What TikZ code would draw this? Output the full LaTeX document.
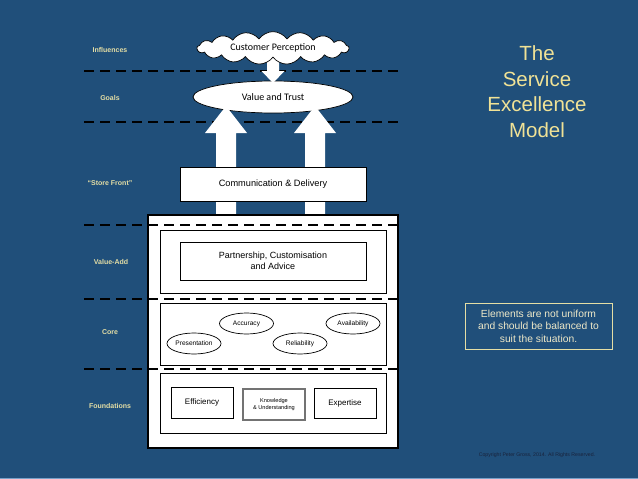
\documentclass[tikz,border=0pt]{standalone}
\usepackage{fontspec}
\setmainfont{Liberation Sans}
\newfontfamily\calib{Carlito}
\usetikzlibrary{shapes.symbols,shapes.geometric}
\definecolor{bgblue}{RGB}{32,79,122}
\definecolor{stripblue}{RGB}{120,160,200}
\definecolor{titleyellow}{RGB}{240,226,150}
\definecolor{labelyellow}{RGB}{228,222,165}
\definecolor{notecream}{RGB}{238,232,200}
\definecolor{copydark}{RGB}{25,35,60}
\tikzset{
  sidelabel/.style={font=\fontsize{7}{8}\selectfont\bfseries, text=labelyellow, anchor=center},
  layerline/.style={draw=black, line width=2.4pt, dash pattern=on 10pt off 6pt},
  whitebox/.style={draw=black, fill=white, line width=0.8pt, rectangle, inner sep=0pt, align=center},
  coreoval/.style={draw=black, fill=white, line width=0.7pt, ellipse, inner sep=0pt,
    minimum width=54pt, minimum height=21pt, font=\fontsize{6.6}{8}\selectfont},
  blockarrow/.style={fill=white, draw=none},
}
\begin{document}
\begin{tikzpicture}[x=1pt,y=-1pt]
\fill[bgblue] (0,0) rectangle (638,479);
\fill[stripblue] (0,477.5) rectangle (638,479);
\useasboundingbox (0,0) rectangle (638,479);

% side labels
\node[sidelabel] (linf) at (110,50) {Influences};
\node[sidelabel] (lgoal) at (110,98) {Goals};
\node[sidelabel] (lstore) at (110,183) {“Store Front”};
\node[sidelabel] (lvalue) at (111,262) {Value-Add};
\node[sidelabel] (lcore) at (110,332) {Core};
\node[sidelabel] (lfound) at (110,406) {Foundations};

% upper dashed lines
\coordinate (d1a) at (84,71);  \coordinate (d1b) at (402,71);
\coordinate (d2a) at (84,122); \coordinate (d2b) at (402,122);
\draw[layerline] (d1a) -- (d1b);
\draw[layerline] (d2a) -- (d2b);

% goals ellipse
\node[draw=black, fill=white, line width=0.7pt, ellipse, inner sep=0pt,
  minimum width=160pt, minimum height=32pt, font=\calib\fontsize{10}{12}\selectfont]
  (trust) at (273,97) {Value and Trust};

% arrows
\coordinate (dbase) at (273,58);
\fill[blockarrow] (dbase) ++(-6,0) -- ++(0,13) -- ++(-5.5,0) -- ++(11.5,12) -- ++(11.5,-12) -- ++(-5.5,0) -- ++(0,-13) -- cycle;
\coordinate (lbase) at (226,216);
\coordinate (rbase) at (315,216);
\fill[blockarrow] (lbase) ++(-10,0) -- ++(0,-83) -- ++(-11,0) -- ++(21,-27) -- ++(21,27) -- ++(-11,0) -- ++(0,83) -- cycle;
\fill[blockarrow] (rbase) ++(-10,0) -- ++(0,-83) -- ++(-11,0) -- ++(21,-27) -- ++(21,27) -- ++(-11,0) -- ++(0,83) -- cycle;

% cloud
\node[draw=black, fill=white, line width=0.7pt, cloud, cloud puffs=17, cloud puff arc=110,
  aspect=5.6, inner sep=0pt, minimum width=152pt, minimum height=24pt,
  font=\calib\fontsize{10}{12}\selectfont] (cloudp) at (273,48) {Customer Perception};

% store front box
\node[whitebox, minimum width=186pt, minimum height=34pt, font=\fontsize{9.2}{11}\selectfont]
  (comm) at (273,184) {Communication \& Delivery};

% big box
\node[draw=black, fill=white, line width=1.2pt, rectangle, inner sep=0pt,
  minimum width=250pt, minimum height=233pt] (bigbox) at (273,331.5) {};

% lower dashed lines
\coordinate (d3a) at (84,225); \coordinate (d3b) at (402,225);
\coordinate (d4a) at (84,299); \coordinate (d4b) at (402,299);
\coordinate (d5a) at (84,369); \coordinate (d5b) at (402,369);
\draw[layerline] (d3a) -- (d3b);
\draw[layerline] (d4a) -- (d4b);
\draw[layerline] (d5a) -- (d5b);

% value-add
\node[whitebox, minimum width=226pt, minimum height=63pt] (vabox) at (273,261.5) {};
\node[whitebox, minimum width=186pt, minimum height=38pt, font=\fontsize{9}{11}\selectfont]
  (partner) at (273,261) {Partnership, Customisation\\and Advice};

% core
\node[whitebox, minimum width=226pt, minimum height=62pt] (corebox) at (273,334) {};
\node[coreoval] (acc) at (246.5,323.5) {Accuracy};
\node[coreoval] (avail) at (353,323.5) {Availability};
\node[coreoval] (pres) at (194,343.5) {Presentation};
\node[coreoval] (rel) at (300,343.5) {Reliability};

% foundations
\node[whitebox, minimum width=226pt, minimum height=60pt] (foundbox) at (273,403) {};
\node[whitebox, minimum width=62pt, minimum height=31pt, font=\fontsize{8}{10}\selectfont]
  (eff) at (202,402.5) {Efficiency};
\node[draw=black!55, fill=white, line width=1.2pt, rectangle, inner sep=0pt, align=center,
  minimum width=62pt, minimum height=31pt, font=\fontsize{5.6}{7.5}\selectfont]
  (know) at (274,404.5) {Knowledge\\\& Understanding};
\node[whitebox, minimum width=62pt, minimum height=30pt, font=\fontsize{8}{10}\selectfont]
  (exp) at (345,403) {Expertise};

% title
\node[text=titleyellow, align=center, font=\fontsize{20.5}{25.5}\selectfont] (title) at (537,91.5)
  {The\\Service\\Excellence\\Model};

% note
\node[draw=labelyellow, line width=0.9pt, rectangle, inner sep=0pt, align=center,
  minimum width=147pt, minimum height=46pt, text=notecream,
  font=\fontsize{10.3}{12.5}\selectfont] (note) at (538.5,326)
  {Elements are not uniform\\and should be balanced to\\suit the situation.};

% copyright
\node[text=copydark, font=\fontsize{5.2}{6}\selectfont] (copy) at (537,455)
  {Copyright Peter Gross, 2014. All Rights Reserved.};
\end{tikzpicture}
\end{document}
